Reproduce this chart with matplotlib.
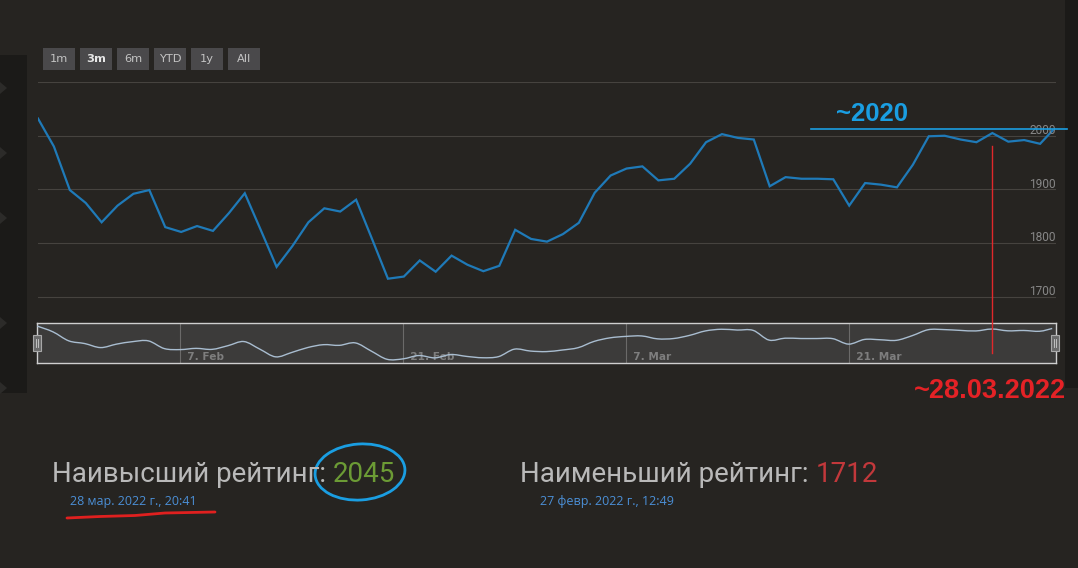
import numpy as np
import pandas as pd
import matplotlib
matplotlib.use("Agg")
import matplotlib.pyplot as plt
import matplotlib.dates as mdates
from matplotlib.patches import Rectangle, Ellipse, Polygon, PathPatch
from matplotlib.path import Path
from matplotlib.transforms import blended_transform_factory

# ---------------- data ----------------
start_date = "2022-01-29"
last_stamp = "2022-04-02 19:00"
ratings = [2032, 1980, 1899, 1875, 1839, 1870, 1892, 1899, 1830, 1821, 1832, 1823,
           1856, 1893, 1825, 1756, 1795, 1839, 1865, 1859, 1881, 1808, 1734, 1738,
           1768, 1747, 1777, 1760, 1748, 1758, 1825, 1808, 1803, 1817, 1838, 1894,
           1926, 1939, 1943, 1917, 1920, 1948, 1988, 2003, 1996, 1993, 1906, 1923,
           1920, 1920, 1919, 1870, 1912, 1909, 1904, 1946, 1999, 2000, 1993, 1988,
           2005, 1989, 1992, 1985, 2010]
x_range = ["2022-01-29", "2022-04-03"]
y_ticks = [1700, 1800, 1900, 2000, 2100]
y_tick_labels = ["1700", "1800", "1900", "2000", ""]
nav_tick_dates = ["2022-02-07", "2022-02-21", "2022-03-07", "2022-03-21"]
nav_tick_labels = ["7. Feb", "21. Feb", "7. Mar", "21. Mar"]
range_buttons = ["1m", "3m", "6m", "YTD", "1y", "All"]
selected_button = "3m"
marker_date = "2022-03-30"
approx_level_text = "~2020"
approx_date_text = "~28.03.2022"
high_label = "Наивысший рейтинг: "
high_value = "2045"
high_date = "28 мар. 2022 г., 20:41"
low_label = "Наименьший рейтинг: "
low_value = "1712"
low_date = "27 февр. 2022 г., 12:49"

dates = pd.date_range(start_date, periods=len(ratings) - 1, freq="D").append(
    pd.DatetimeIndex([last_stamp]))
xd = mdates.date2num(dates.to_pydatetime())
xlim = mdates.date2num(pd.to_datetime(x_range).to_pydatetime())

# ---------------- style ----------------
BG = "#262421"
PANEL = "#1b1a18"
GRID = "#46433f"
LINE = "#1f7ab8"
W, H = 1078, 568

fig = plt.figure(figsize=(W / 100, H / 100), dpi=100, facecolor=BG)


def fax(l, t, r, b):
    return [l / W, 1 - b / H, (r - l) / W, (b - t) / H]


# decoration axes in pixel coordinates
deco = fig.add_axes([0, 0, 1, 1], zorder=0)
deco.set_xlim(0, W)
deco.set_ylim(H, 0)
deco.axis("off")

deco.add_patch(Rectangle((0, 55), 27, 338, color=PANEL, lw=0))
deco.add_patch(Rectangle((1065, 0), 13, 388, color=PANEL, lw=0))
for ty in [88, 153, 218, 323, 388]:
    deco.add_patch(Polygon([[0, ty - 6], [7, ty], [0, ty + 6]], closed=True,
                           color="#2c2b29", lw=0))

bx = 43
for lab in range_buttons:
    deco.add_patch(Rectangle((bx, 48), 32, 22, color="#4a494b", lw=0))
    deco.text(bx + 16, 59.5, lab, ha="center", va="center",
              fontsize=8.2, family="DejaVu Sans",
              color="#e6e6e6" if lab == selected_button else "#c4c4c4",
              fontweight="bold" if lab == selected_button else "normal")
    bx += 37

# ---------------- main chart ----------------
ax = fig.add_axes(fax(38, 82, 1056, 315), zorder=2)
ax.set_facecolor("none")
ax.plot(xd, ratings, color=LINE, lw=1.6, solid_joinstyle="miter", zorder=3)
ax.set_xlim(*xlim)
ax.set_ylim(1666.5, 2100)
ax.set_yticks(y_ticks)
ax.set_xticks([])
ax.grid(axis="y", color=GRID, lw=0.8)
ax.tick_params(left=False, labelleft=False)
for s in ax.spines.values():
    s.set_visible(False)
tr = blended_transform_factory(ax.transAxes, ax.transData)
for v, lab in zip(y_ticks, y_tick_labels):
    ax.text(1.0, v + 10, lab, transform=tr, ha="right", va="center",
            fontsize=8.6, color="#878787", family="Roboto", zorder=4)

# ---------------- navigator ----------------
nav = fig.add_axes(fax(37, 323, 1055.5, 363), zorder=2)
nav.set_facecolor("#3c3b3a")
nav.set_xlim(*xlim)
nav.set_ylim(1701, 2059)
pts = np.column_stack([xd, ratings]).astype(float)
verts = [pts[0]]
codes = [Path.MOVETO]
n = len(pts)
for i in range(n - 1):
    p0 = pts[max(i - 1, 0)]
    p1 = pts[i]
    p2 = pts[i + 1]
    p3 = pts[min(i + 2, n - 1)]
    verts += [p1 + (p2 - p0) / 6, p2 - (p3 - p1) / 6, p2]
    codes += [Path.CURVE4] * 3
nav.add_patch(PathPatch(Path(verts, codes), fill=False, ec="#a9bdd0", lw=1.0, zorder=3))
ntd = mdates.date2num(pd.to_datetime(nav_tick_dates).to_pydatetime())
for xv, lab in zip(ntd, nav_tick_labels):
    nav.axvline(xv, color="#6b6a69", lw=0.8, zorder=1)
    nav.text(xv, 1712, "  " + lab, ha="left", va="bottom", fontsize=7.6,
             fontweight="bold", color="#7e7e7e", family="DejaVu Sans", zorder=2)
nav.set_xticks([])
nav.set_yticks([])
for s in nav.spines.values():
    s.set_color("#cfcfcf")
    s.set_linewidth(1.0)

# ---------------- overlay ----------------
ov = fig.add_axes([0, 0, 1, 1], zorder=5)
ov.set_xlim(0, W)
ov.set_ylim(H, 0)
ov.axis("off")
ov.patch.set_alpha(0)

for hx in (33, 1051):
    ov.add_patch(Rectangle((hx, 335), 8, 15.5, fc="#6a6a6a", ec="#a8a8a8", lw=0.8))
    ov.plot([hx + 3.2, hx + 3.2], [339, 346.5], color="#cfcfcf", lw=0.6)
    ov.plot([hx + 4.8, hx + 4.8], [339, 346.5], color="#cfcfcf", lw=0.6)

# red vertical marker
mx = mdates.date2num(pd.Timestamp(marker_date).to_pydatetime())
rtr = blended_transform_factory(ax.transData, ov.transData)
ov.plot([mx, mx], [146, 353], transform=rtr, color="#e0282b", lw=1.0)

# ~2020 annotation
ov.plot([811, 1067], [129.3, 129.3], color="#1a9ee2", lw=1.2)
ov.text(872, 114, approx_level_text, ha="center", va="center", fontsize=18.5,
        fontweight="bold", color="#1a9ee2", family="Liberation Sans")
ov.text(1066, 391.5, approx_date_text, ha="right", va="center", fontsize=19.5,
        fontweight="bold", color="#e42226", family="Liberation Sans")

# bottom statistics
STAT_FS = 20
t1 = ov.text(52, 475, high_label, ha="left", va="center", fontsize=STAT_FS,
             color="#b9b9b9", family="Roboto")
t2 = ov.text(520, 475, low_label, ha="left", va="center", fontsize=STAT_FS,
             color="#b9b9b9", family="Roboto")
fig.canvas.draw()
inv = ov.transData.inverted()
x_end1 = inv.transform((t1.get_window_extent().x1, 0))[0]
x_end2 = inv.transform((t2.get_window_extent().x1, 0))[0]
ov.text(x_end1, 475, high_value, ha="left", va="center", fontsize=STAT_FS,
        color="#6c9b35", family="Roboto")
ov.text(x_end2, 475, low_value, ha="left", va="center", fontsize=STAT_FS,
        color="#c2383b", family="Roboto")
ov.text(70, 502, high_date, ha="left", va="center", fontsize=9,
        color="#4b8fd6", family="Open Sans")
ov.text(540, 502, low_date, ha="left", va="center", fontsize=9,
        color="#4b8fd6", family="Open Sans")

# hand-drawn marks
ov.add_patch(Ellipse((360, 472), 90, 56, angle=-4, fill=False, ec="#1a9ee2", lw=2.0))
ov.plot([67, 100, 135, 165, 215], [518, 516.5, 515.5, 513, 512], color="#e0201f",
        lw=2.0, solid_capstyle="round")

fig.savefig("out.png", dpi=100, facecolor=BG)
